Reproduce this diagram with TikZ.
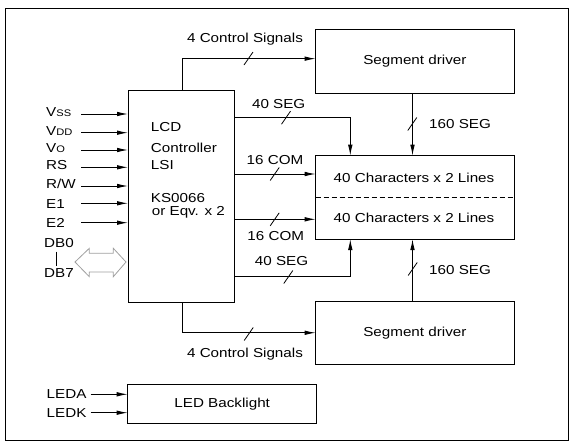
\documentclass[tikz,border=0pt]{standalone}
\usepackage{fontspec}
\setmainfont{Liberation Sans}[FakeStretch=1.17]
\usetikzlibrary{arrows.meta}
\begin{document}
\begin{tikzpicture}[x=1pt,y=-1pt,
  every node/.style={font=\fontsize{13}{15}\selectfont, inner sep=0pt},
  box/.style={draw, line width=0.9pt, rectangle, inner sep=0pt, outer sep=0pt},
  wire/.style={line width=0.9pt},
  arr/.style={wire, -{Latex[length=11pt,width=4.5pt]}},
  tick/.style={line width=0.8pt},
  sub/.style={}]
\useasboundingbox (0,0) rectangle (572,445);
\node[box, minimum width=563pt, minimum height=432.5pt] (frame) at (287,224.25) {};
% blocks
\node[box, minimum width=106.5pt, minimum height=212pt] (ctrl) at (181.25,196.5) {};
\node[box, minimum width=198.3pt, minimum height=63.7pt] (segTop) at (414.85,61.15) {Segment driver};
\node[box, minimum width=198.3pt, minimum height=83.3pt] (chars) at (414.85,197.35) {};
\node[box, minimum width=198.3pt, minimum height=63.5pt] (segBot) at (414.85,332.75) {Segment driver};
\node[box, minimum width=189pt, minimum height=39pt] (led) at (222.2,403.8) {LED Backlight};
% texts in boxes
\node[anchor=west] (t1) at (150.7,126.7) {LCD};
\node[anchor=west] (t2) at (150.7,147.5) {Controller};
\node[anchor=west] (t3) at (150.7,165.5) {LSI};
\node[anchor=west] (t4) at (150.7,198.5) {KS0066};
\node[anchor=west] (t5) at (151.7,212.5) {or Eqv. x 2};
\node (c1) at (414,177.6) {40 Characters x 2 Lines};
\node (c2) at (414,217.7) {40 Characters x 2 Lines};
\coordinate (dl) at (0,197.5);
\draw[line width=0.8pt, dash pattern=on 5pt off 3pt] (dl -| chars.west) -- (dl -| chars.east);
% control signals
\coordinate (cx) at (182,0);
\draw[arr] (cx |- ctrl.north) |- ([yshift=2.5pt]segTop.west);
\draw[arr] (cx |- ctrl.south) |- (segBot.west);
\node (l1) at (245,39) {4 Control Signals};
\node (l2) at (245,354) {4 Control Signals};
% SEG / COM lines
\coordinate (sx) at (350.3,0);
\coordinate (y40a) at (0,117.7);
\coordinate (y16a) at (0,174);
\coordinate (y16b) at (0,219.3);
\coordinate (y40b) at (0,276.7);
\draw[arr] (y40a -| ctrl.east) -| (sx |- chars.north);
\draw[arr] (y16a -| ctrl.east) -- (y16a -| chars.west);
\draw[arr] (y16b -| ctrl.east) -- (y16b -| chars.west);
\draw[arr] (y40b -| ctrl.east) -| (sx |- chars.south);
\node (l3) at (278.7,104) {40 SEG};
\node (l4) at (275,160.5) {16 COM};
\node (l5) at (275.8,236.5) {16 COM};
\node (l6) at (281.6,261) {40 SEG};
% 160 SEG
\coordinate (gx) at (412.5,0);
\draw[arr] (gx |- segTop.south) -- (gx |- chars.north);
\draw[arr] (gx |- segBot.north) -- (gx |- chars.south);
\node[anchor=west] (l7) at (429,124) {160 SEG};
\node[anchor=west] (l8) at (429,270) {160 SEG};
% ticks
\foreach \tx/\ty in {248.5/58.5, 286/117.7, 274.7/174, 274.7/219.3, 288.3/277, 412.3/124, 412.7/269, 248.7/334}
  \draw[tick] (\tx-4.5,\ty+6.5) -- (\tx+4.5,\ty-6.5);
% pins
\foreach \n/\py in {a/114, b/132.7, c/150, d/167.3, e/186, f/203.3, g/222.7}{
  \coordinate (p\n) at (81,\py);
  \draw[arr] (p\n) -- (p\n -| ctrl.west);
}
\node[anchor=west] (n1) at (46,112.5) {V{\fontsize{9.5}{10}\selectfont SS}};
\node[anchor=west] (n2) at (46,131.2) {V{\fontsize{9.5}{10}\selectfont DD}};
\node[anchor=west] (n3) at (46,148.3) {V{\fontsize{9.5}{10}\selectfont O}};
\node[anchor=west] (n4) at (46,165.5) {RS};
\node[anchor=west] (n5) at (46,184.3) {R/W};
\node[anchor=west] (n6) at (46,203.8) {E1};
\node[anchor=west] (n7) at (46,222.8) {E2};
\node[anchor=west] (n8) at (44,243.3) {DB0};
\node[anchor=west] (n9) at (44,273.3) {DB7};
\draw[line width=0.8pt] (56,251.7) -- (56,266);
% bidirectional bus arrow
\draw[line width=0.8pt, draw=gray!75] (75,262) -- (89.3,248.3) -- (89.3,253.3) -- (113.3,253.3) -- (113.3,248.3) -- (126,262) -- (113.3,276.7) -- (113.3,272) -- (89.3,272) -- (89.3,276.7) -- cycle;
% LED pins
\coordinate (la) at (90.7,394.3);
\coordinate (lk) at (90.7,412.7);
\draw[arr] (la) -- (la -| led.west);
\draw[arr] (lk) -- (lk -| led.west);
\node[anchor=west] (n10) at (46.5,394) {LEDA};
\node[anchor=west] (n11) at (46.5,413) {LEDK};
\end{tikzpicture}
\end{document}
